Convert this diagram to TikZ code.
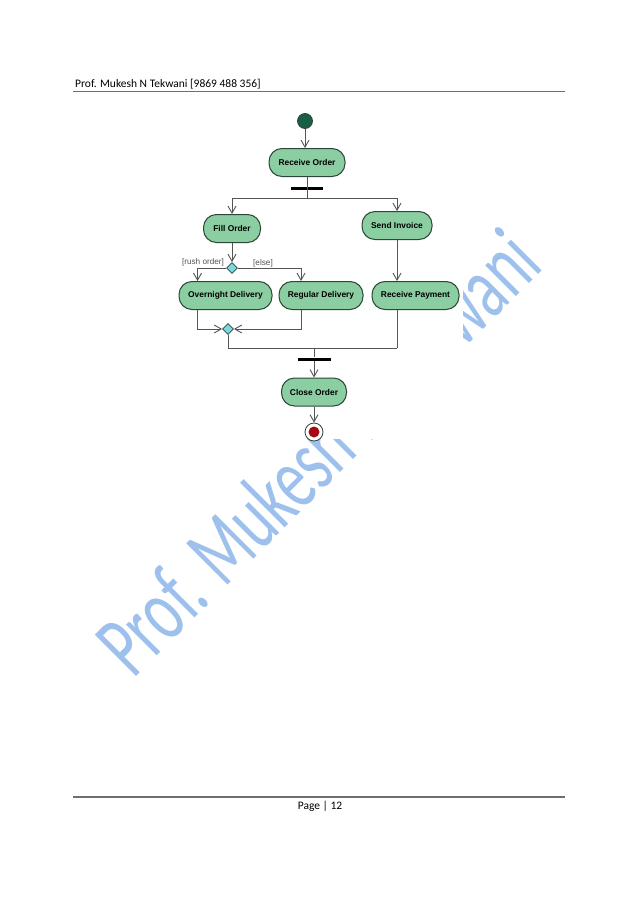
\documentclass[tikz,border=0pt]{standalone}
\usepackage{fontspec}
\setmainfont{Carlito}
\newfontfamily\umlfont{Liberation Sans}
\usetikzlibrary{arrows.meta,shapes.geometric}

\definecolor{actgreen}{RGB}{138,206,162}
\definecolor{actedge}{RGB}{45,70,55}
\definecolor{decblue}{RGB}{125,215,222}
\definecolor{startgreen}{RGB}{25,95,70}
\definecolor{endred}{RGB}{165,10,20}
\definecolor{flowgray}{RGB}{85,85,85}
\definecolor{wmblue}{RGB}{157,192,236}
\definecolor{rulegray}{RGB}{110,110,110}

\tikzset{
	activity/.style={draw=actedge, fill=actgreen, line width=1pt, rounded corners=13pt, minimum height=28pt, inner sep=0pt, font=\umlfont\bfseries\fontsize{8.4}{9}\selectfont},
	decision/.style={diamond, draw=actedge, fill=decblue, line width=0.8pt, minimum width=11pt, minimum height=11pt, inner sep=0pt},
	syncbar/.style={fill=black, minimum width=32pt, minimum height=3pt, inner sep=0pt},
	flow/.style={draw=flowgray, line width=0.9pt, -{Straight Barb[length=7pt,width=8pt]}},
	plain/.style={draw=flowgray, line width=0.9pt},
	guard/.style={text=flowgray, font=\umlfont\fontsize{8.2}{9}\selectfont, inner sep=0pt},
	pagetext/.style={inner sep=0pt, font=\fontsize{11.5}{13}\selectfont},
}

\begin{document}
\begin{tikzpicture}[x=1pt, y=-1pt]
	\fill[white] (0, 0) rectangle (638, 902);
	% watermark behind the diagram
	\node[text=wmblue, rotate=45, xscale=0.655, anchor=base, inner sep=0pt, font=\fontsize{91}{91}\selectfont] (mark) at (339, 474) {Prof. Mukesh N Tekwani};
	\fill[white] (179, 108) rectangle (463, 439);

	% header and footer
	\node[pagetext, anchor=base west] (head) at (75, 87) {Prof. Mukesh N Tekwani [9869 488 356]};
	\draw[rulegray, line width=1.1pt] (73, 91.5) -- (565, 91.5);
	\draw[rulegray, line width=1.1pt] (73, 797) -- (565, 797);
	\node[pagetext, anchor=base] (foot) at (320, 809) {Page | 12};

	% activity diagram
	\node[circle, fill=startgreen, draw=actedge, line width=0.8pt, minimum size=15pt, inner sep=0pt] (start) at (305, 121) {};
	\node[activity, minimum width=76pt] (recv) at (307, 162.5) {Receive Order};
	\node[syncbar] (fork) at (307, 188.5) {};
	\coordinate (split) at (307, 198);
	\node[activity, minimum width=57pt] (fill) at (232, 228.5) {Fill Order};
	\node[activity, minimum width=70pt] (send) at (397, 225.5) {Send Invoice};
	\node[decision] (dec) at (232, 268) {};
	\node[guard] (rush) at (203, 262.5) {[rush order]};
	\node[guard] (else) at (263, 263) {[else]};
	\node[activity, minimum width=93pt] (over) at (225.5, 295.5) {Overnight Delivery};
	\node[activity, minimum width=84pt] (reg) at (321, 295.5) {Regular Delivery};
	\node[activity, minimum width=87pt] (pay) at (415.5, 295.5) {Receive Payment};
	\node[decision] (merge) at (228, 329) {};
	\coordinate (gather) at (397, 348);
	\node[syncbar, minimum width=33pt] (join) at (314, 359) {};
	\node[activity, minimum width=65pt] (close) at (314, 392) {Close Order};
	\node[circle, draw=actedge, fill=white, line width=0.8pt, minimum size=18pt, inner sep=0pt] (end) at (314, 432) {};
	\node[circle, fill=endred, minimum size=11pt, inner sep=0pt] (enddot) at (end) {};

	\draw[flow] (start) -- (recv.north -| start);
	\draw[plain] (recv) -- (split);
	\draw[flow] (split) -| (fill);
	\draw[flow] (split) -| (send);
	\draw[flow] (fill) -- (dec);
	\draw[flow] (dec.west) -| ([xshift=-28pt]over.north);
	\draw[flow] (dec.east) -| ([xshift=-20pt]reg.north);
	\draw[flow] (send) -- (send |- pay.north);
	\draw[flow] ([xshift=-28pt]over.south) |- (merge.west);
	\draw[flow] ([xshift=-20pt]reg.south) |- (merge.east);
	\draw[plain] (merge.south) |- (gather);
	\draw[plain] (send |- pay.south) -- (gather);
	\draw[plain] (gather -| join) -- (join);
	\draw[flow] (join) -- (close);
	\draw[flow] (close) -- (end);
\end{tikzpicture}
\end{document}
